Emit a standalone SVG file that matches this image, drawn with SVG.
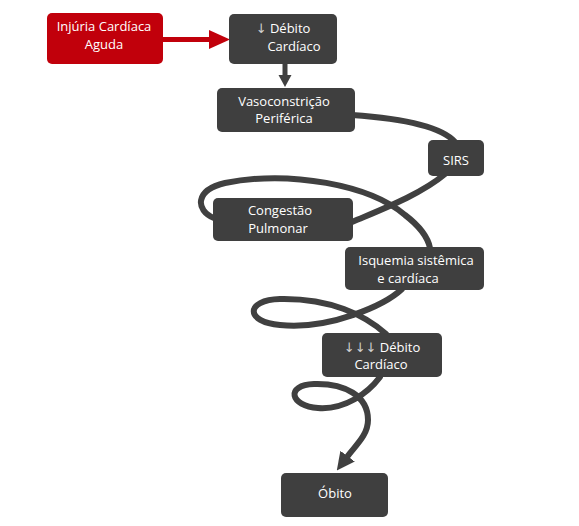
<svg xmlns="http://www.w3.org/2000/svg" width="579" height="526" viewBox="0 0 579 526">
<style>
.box{fill:#3f3f3f;}
.red{fill:#c1000b;}
.t{font-family:"Open Sans","DejaVu Sans",sans-serif;font-size:13px;fill:#ffffff;text-anchor:middle;}
.ar{fill:#cfcfcf;font-family:"DejaVu Sans",sans-serif;font-size:13px;}
.c{fill:none;stroke:#404040;stroke-width:6;stroke-linecap:round;}
</style>
<defs>
<marker id="head" viewBox="0 0 18 18" refX="1" refY="9" markerWidth="18" markerHeight="18" markerUnits="userSpaceOnUse" orient="auto">
<path d="M0,0 L18,9 L0,18 z" fill="#404040"/>
</marker>
</defs>
<rect width="579" height="526" fill="#ffffff"/>
<g id="connectors">
<line x1="163" y1="39.5" x2="212" y2="39.5" stroke="#c1000b" stroke-width="5"/>
<polygon points="209,30 230,39.5 209,49" fill="#c1000b"/>
<line x1="285" y1="64" x2="285" y2="77" stroke="#404040" stroke-width="5"/>
<polygon points="278.5,75 291.5,75 285,87" fill="#404040"/>
<path class="c" d="M352,115 C395,118 440,125 455,142"/>
<path class="c" d="M445,174 C420,195 380,210 352,222"/>
<path class="c" d="M214,218 C195,210 195,190 225,183 C290,170 370,185 405,215 C422,228 428,238 430,248"/>
<path class="c" d="M402,289 C385,305 330,330 280,325 C245,322 245,300 280,299 C330,298 365,315 386,334"/>
<path class="c" d="M380,377 C368,393 345,410 318,408 C290,406 285,385 314,384 C345,383 368,396 368,420 C368,435 356,445 347,457" marker-end="url(#head)"/>
</g>
<g id="n-injuria">
<rect class="red" x="47" y="13" width="116" height="51" rx="5"/>
<text class="t" x="104" y="31">Injúria Cardíaca</text>
<text class="t" x="104" y="49">Aguda</text>
</g>
<g id="n-debito">
<rect class="box" x="229" y="14" width="108" height="50" rx="5"/>
<text class="t" x="283" y="33"><tspan class="ar">↓</tspan> Débito</text>
<text class="t" x="294" y="51">Cardíaco</text>
</g>
<g id="n-vaso">
<rect class="box" x="217" y="88" width="138" height="44" rx="5"/>
<text class="t" x="284" y="106">Vasoconstrição</text>
<text class="t" x="284" y="123">Periférica</text>
</g>
<g id="n-sirs">
<rect class="box" x="428" y="140" width="56" height="36" rx="5"/>
<text class="t" x="456" y="165">SIRS</text>
</g>
<g id="n-congestao">
<rect class="box" x="213" y="198" width="140" height="43" rx="5"/>
<text class="t" x="280" y="215">Congestão</text>
<text class="t" x="278" y="233">Pulmonar</text>
</g>
<g id="n-isquemia">
<rect class="box" x="345" y="247" width="139" height="43" rx="5"/>
<text class="t" x="416" y="265">Isquemia sistêmica</text>
<text class="t" x="408" y="283">e cardíaca</text>
</g>
<g id="n-debito3">
<rect class="box" x="322" y="333" width="120" height="44" rx="5"/>
<text class="t" x="382" y="352"><tspan class="ar">↓↓↓</tspan> Débito</text>
<text class="t" x="381" y="369">Cardíaco</text>
</g>
<g id="n-obito">
<rect class="box" x="281" y="473" width="107" height="44" rx="5"/>
<text class="t" x="335" y="498">Óbito</text>
</g>
</svg>
